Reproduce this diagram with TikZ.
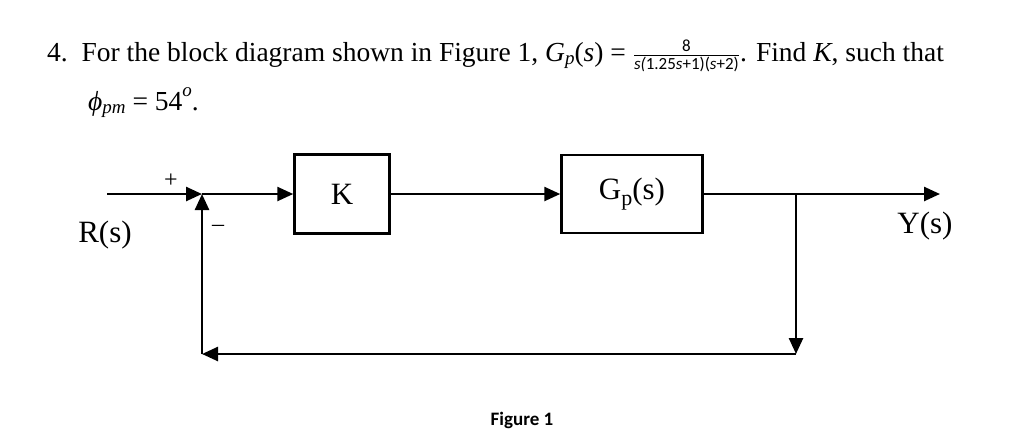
\documentclass[tikz,border=0pt]{standalone}
\usepackage{fontspec}
\setmainfont{Liberation Serif}
\newfontfamily\carl{Carlito}
\usetikzlibrary{arrows.meta}
\begin{document}
\begin{tikzpicture}[x=1pt,y=-1pt,
  blk/.style={draw,line width=2.5pt,inner sep=0pt},
  ln/.style={line width=2.5pt},
  arr/.style={ln,-{Triangle[length=16pt,width=14pt]}},
  lbl/.style={font=\fontsize{31}{34}\selectfont}]
\useasboundingbox (0,0) rectangle (1024,445);
\node[anchor=base west,font=\fontsize{27.5}{30}\selectfont,inner sep=0pt] (t1) at (47,61) {4.\ \ For the block diagram shown in Figure 1, \textit{G}\raisebox{-0.3ex}{\fontsize{19}{20}\selectfont\textit{p}}(\textit{s}) = $\frac{\mbox{\carl\fontsize{17}{18}\selectfont 8}}{\mbox{\carl\itshape\fontsize{17}{18}\selectfont s(\upshape1.25\itshape s\upshape+1)(\itshape s\upshape+2)}}$. Find \textit{K}, such that};
\node[anchor=base west,font=\fontsize{27.5}{30}\selectfont,inner sep=0pt] (t2) at (88,110) {\textit{ϕ}\raisebox{-0.3ex}{\fontsize{19}{20}\selectfont\textit{pm}} = 54\raisebox{1.1ex}{\fontsize{19}{20}\selectfont\textit{o}}.};
\node[blk,minimum width=95pt,minimum height=79pt,lbl] (K) at (342,194) {K};
\node[blk,minimum width=141pt,minimum height=78pt,lbl] (G) at (632,194) {G\raisebox{-0.4ex}{\fontsize{22}{24}\selectfont p}(s)};
\coordinate (in) at (107,194);
\coordinate (j) at (202,194);
\coordinate (br) at (796,194);
\coordinate (out) at (940,194);
\coordinate (bl) at (202,354);
\coordinate (brb) at (796,354);
\draw[arr] (in) -- (j);
\draw[arr] (j) -- (K.west);
\draw[arr] (K.east) -- (G.west);
\draw[arr] (G.east) -- (out);
\draw[arr] (br) -- (brb);
\draw[arr] (brb) -- (bl);
\draw[arr] (bl) -- (j);
\node[lbl] (R) at (105,235) {R(s)};
\node[lbl] (Y) at (925,226) {Y(s)};
\node[font=\fontsize{24}{26}\selectfont] (p) at (171,181) {+};
\node[font=\fontsize{24}{26}\selectfont] (m) at (218,228) {--};
\node[font=\carl\bfseries\fontsize{19}{21}\selectfont] (f) at (522,420) {Figure 1};
\end{tikzpicture}
\end{document}
